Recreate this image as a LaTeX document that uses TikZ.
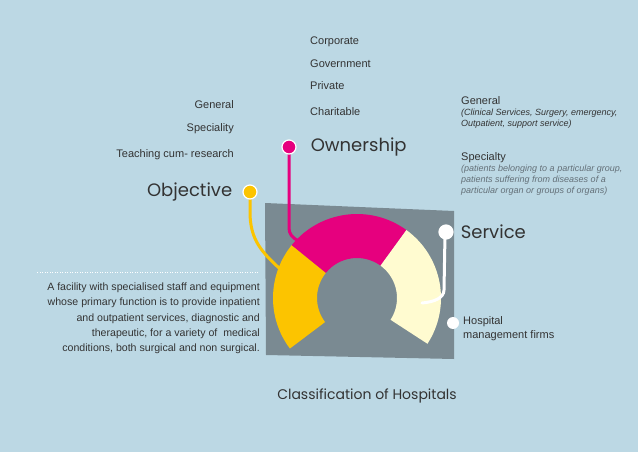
\documentclass[tikz,border=0pt]{standalone}
\usepackage{fontspec}
\setmainfont{Liberation Sans}
\newfontfamily\gothic{Poppins}
\usetikzlibrary{positioning}
\definecolor{bgblue}{RGB}{188,216,228}
\definecolor{slate}{RGB}{122,138,146}
\definecolor{goldy}{RGB}{252,196,0}
\definecolor{magen}{RGB}{230,0,126}
\definecolor{creamy}{RGB}{255,251,208}
\definecolor{ink}{RGB}{51,51,51}
\definecolor{softink}{RGB}{100,112,120}

\begin{document}
\begin{tikzpicture}[x=1pt,y=-1pt,
        list text/.style={font=\fontsize{11}{14}\selectfont,text=ink,inner sep=0pt,align=left},
        head text/.style={font=\gothic\fontsize{18}{20}\selectfont,text=ink,inner sep=0pt},
        note text/.style={font=\itshape\fontsize{9}{11.2}\selectfont,inner sep=0pt,align=left},
        dot/.style={circle,draw=white,line width=1.2pt,minimum size=14pt,inner sep=0pt},
        leader/.style={line width=3pt,line cap=round}]
        \useasboundingbox (0,0) rectangle (638,452);
        \fill[bgblue] (0,0) rectangle (638,452);
        \fill[slate] (265,203) -- (454,211) -- (454,359) -- (266,355) -- cycle;
        \begin{scope}[shift={(357,298)},yscale=-1]
        \fill[goldy] (141:84) arc[start angle=141,end angle=217,radius=84]
            -- (217:40) arc[start angle=217,end angle=141,radius=40] -- cycle;
        \fill[magen] (54:84) arc[start angle=54,end angle=141,radius=84]
            -- (141:40) arc[start angle=141,end angle=54,radius=40] -- cycle;
        \fill[creamy] (-33:84) arc[start angle=-33,end angle=54,radius=84]
            -- (54:40) arc[start angle=54,end angle=-33,radius=40] -- cycle;
        \end{scope}
        \coordinate (objend) at (279,268);
        \coordinate (ownend) at (298,241);
        \coordinate (servend) at (422,303);
        \draw[leader,goldy] (250,195) -- (250,212) .. controls (250,240) and (262,252) .. (objend);
        \draw[leader,magen] (289,150) -- (289,228) .. controls (289,234) and (292,237) .. (ownend);
        \draw[leader,white] (445,235) -- (444,290) .. controls (444,298) and (434,302) .. (servend);
        \node[dot,fill=goldy] (objdot) at (250,192) {};
        \node[dot,fill=magen] (owndot) at (289,147) {};
        \node[dot,fill=white] (servdot) at (446,232) {};
        \node[circle,fill=white,draw=none,minimum size=12pt,inner sep=0pt] (hospdot) at (453,323) {};
        \node[head text,left=10pt of objdot] (obj) {Objective};
        \node[head text,right=14pt of owndot] (own) {Ownership};
        \node[head text,right=7pt of servdot] (serv) {Service};
        \node[list text,anchor=west] (hosp) at (463,329) {Hospital\\management firms};
        \node[list text,anchor=east] (gen) at (234,105) {General};
        \node[list text,anchor=east] (spec) at (234,129) {Speciality};
        \node[list text,anchor=east] (teach) at (234,155) {Teaching cum- research};
        \node[list text,anchor=west] (corp) at (310,42) {Corporate};
        \node[list text,anchor=west] (gov) at (310,64) {Government};
        \node[list text,anchor=west] (priv) at (310,86) {Private};
        \node[list text,anchor=west] (char) at (310,112) {Charitable};
        \node[list text,anchor=west] (gensrv) at (461,101) {General};
        \node[note text,text=ink,anchor=west] (gennote) at (461,119) {(Clinical Services, Surgery, emergency,\\Outpatient, support service)};
        \node[list text,anchor=west] (specsrv) at (461,158) {Specialty};
        \node[note text,text=softink,anchor=west] (specnote) at (461,180) {(patients belonging to a particular group,\\patients suffering from diseases of a\\particular organ or groups of organs)};
        \draw[white,line width=1pt,dash pattern=on 1pt off 1.5pt] (37,272) -- (258,272);
        \node[font=\fontsize{10.6}{15.3}\selectfont,text=ink,inner sep=0pt,align=right,anchor=east] (desc) at (260,318.5)
            {A facility with specialised staff and equipment\\whose primary function is to provide inpatient\\and outpatient services, diagnostic and\\therapeutic, for a variety of\ \ medical\\conditions, both surgical and non surgical.};
        \node[font=\gothic\fontsize{14}{16}\selectfont,text=ink,inner sep=0pt] (title) at (367,396) {Classification of Hospitals};
\end{tikzpicture}
\end{document}
